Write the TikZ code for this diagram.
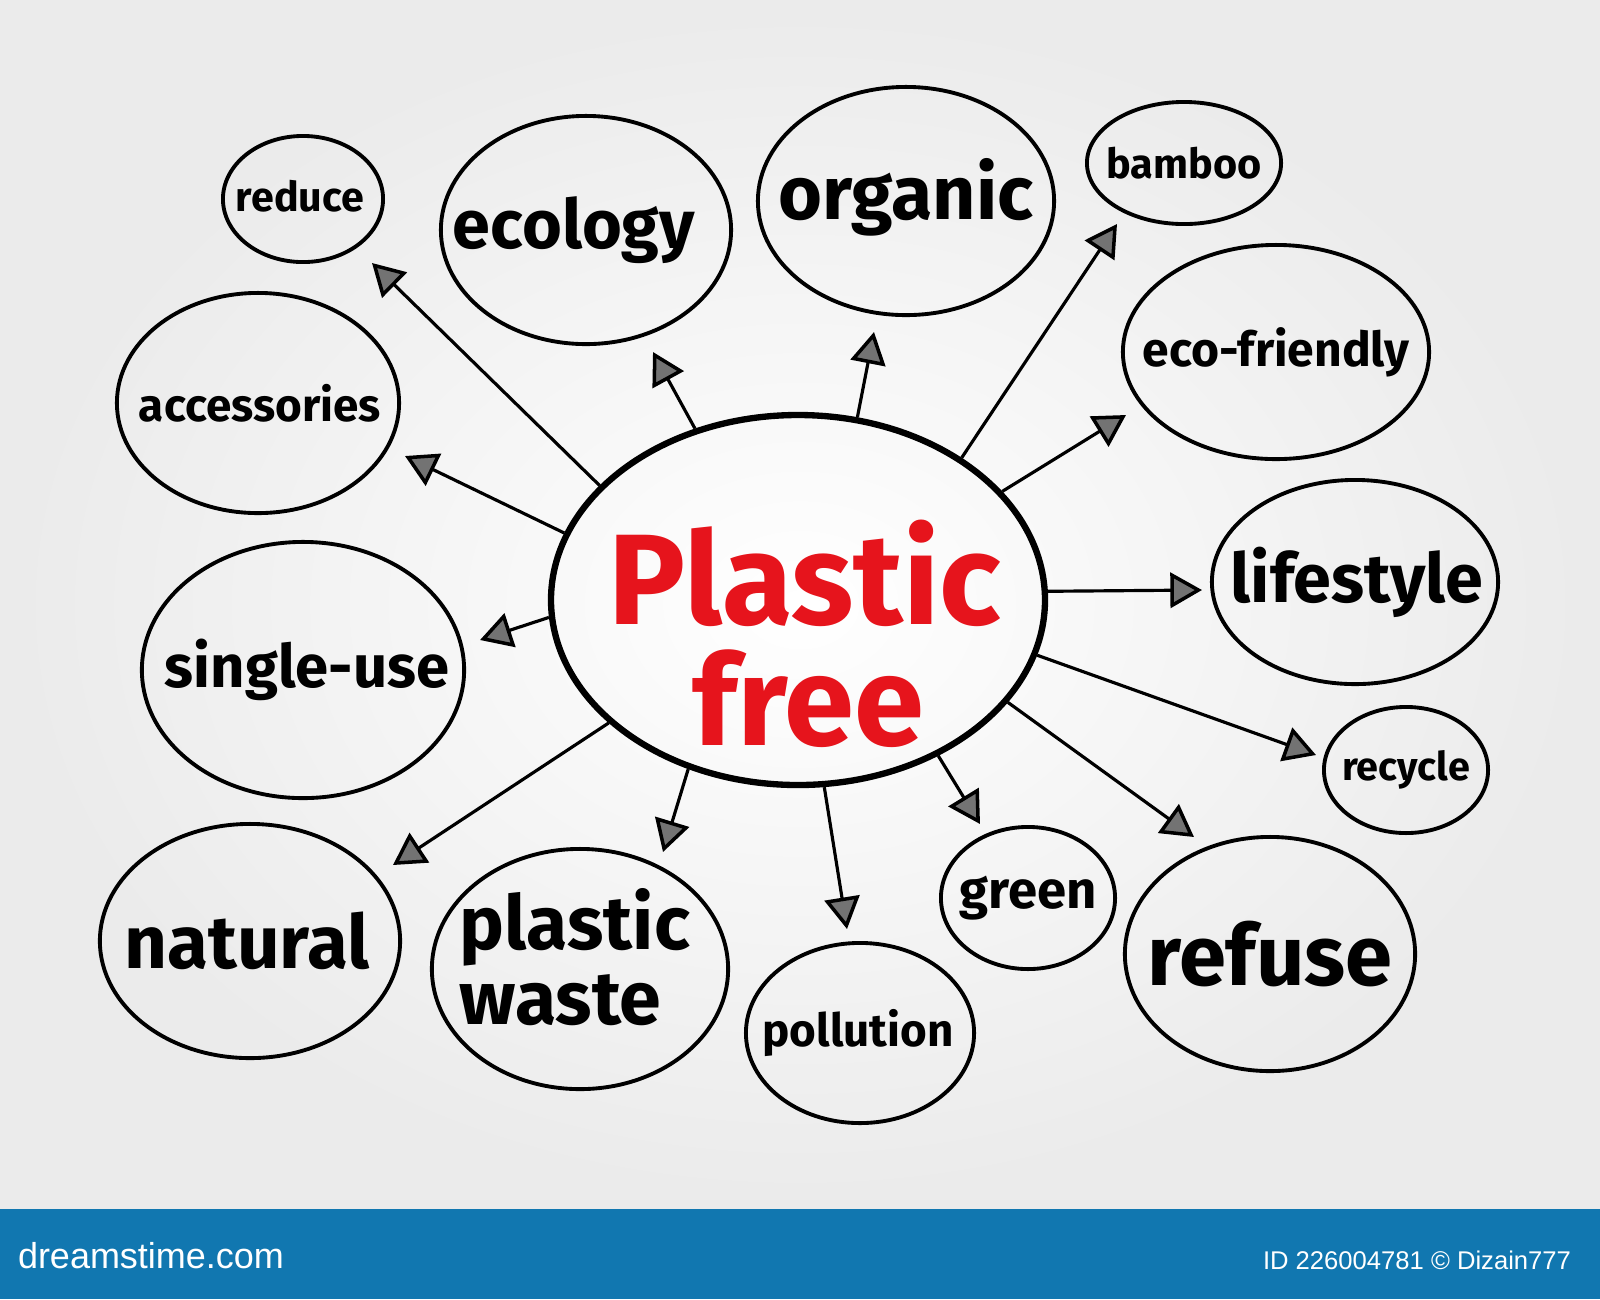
\documentclass[tikz,border=0pt]{standalone}
\usepackage{graphicx}
\usepackage{fontspec}
\setmainfont{Fira Sans}
\usetikzlibrary{shapes.geometric,arrows.meta}
\definecolor{barblue}{RGB}{17,119,176}
\definecolor{pfred}{RGB}{230,20,28}
\newlength{\pxu}\setlength{\pxu}{0.01cm}
\newcommand{\wlbl}[2]{\resizebox{#1\pxu}{!}{\bfseries #2}}
\tikzset{
  bub/.style 2 args={ellipse, draw=black, line width=1.1pt, inner sep=0pt,
    minimum width=#1*0.02cm, minimum height=#2*0.02cm},
  txt/.style={inner sep=0pt},
  arr/.style={line width=0.9pt, -{Triangle[length=9pt,width=10pt,fill=black!55,line width=1pt]}},
}
\begin{document}
\begin{tikzpicture}[x=0.01cm,y=-0.01cm]
\useasboundingbox (0,0) rectangle (1600,1299);
\shade[inner color=white, outer color=black!8] (0,0) rectangle (1600,1209);
\fill[barblue] (0,1209) rectangle (1600,1299);
\node[text=white, inner sep=0] (dt) at (151,1256) {\resizebox{266\pxu}{!}{\fontspec{Liberation Sans}dreamstime.com}};
\node[text=white, inner sep=0] (id) at (1417,1260) {\resizebox{308\pxu}{!}{\fontspec{Liberation Sans}ID 226004781 \textcopyright{} Dizain777}};

% central
\node[ellipse, draw=black, line width=1.8pt, inner sep=0pt, minimum width=494*0.01cm, minimum height=370*0.01cm] (c) at (798,600) {};
\node[text=pfred, txt] (pl) at (805,573) {\wlbl{393}{Plastic}};
\node[text=pfred, txt] (fr) at (808,699) {\wlbl{231}{free}};

% bubbles
\node[bub={80}{63}] (reduce) at (303,199) {};
\node[bub={145}{114}] (ecology) at (586,230) {};
\node[bub={148}{114}] (organic) at (906,201) {};
\node[bub={97}{61}] (bamboo) at (1184,163) {};
\node[bub={153}{107}] (eco) at (1276,352) {};
\node[bub={141}{110}] (acc) at (258,403) {};
\node[bub={161}{128}] (single) at (303,670) {};
\node[bub={143}{102}] (life) at (1355,582) {};
\node[bub={82}{63}] (recycle) at (1406,770) {};
\node[bub={150}{117}] (natural) at (250,941) {};
\node[bub={148}{120}] (waste) at (580,969) {};
\node[bub={114}{90}] (poll) at (860,1033) {};
\node[bub={87}{71}] (green) at (1028,898) {};
\node[bub={145}{117}] (refuse) at (1270,954) {};

% labels
\node[txt] (reduceT) at (300,196) {\wlbl{128}{reduce}};
\node[txt] (ecologyT) at (574,230) {\wlbl{242}{ecology}};
\node[txt] (organicT) at (906,197) {\wlbl{255}{organic}};
\node[txt] (bambooT) at (1184,163) {\wlbl{155}{bamboo}};
\node[txt] (ecoT) at (1276,352) {\wlbl{267}{eco-friendly}};
\node[txt] (accT) at (260,403) {\wlbl{242}{accessories}};
\node[txt] (singleT) at (307,670) {\wlbl{284}{single-use}};
\node[txt] (lifeT) at (1357,582) {\wlbl{253}{lifestyle}};
\node[txt] (recycleT) at (1406,770) {\wlbl{128}{recycle}};
\node[txt] (naturalT) at (247,941) {\wlbl{245}{natural}};
\node[txt] (wasteT) at (575,969) {\wlbl{230}{\begin{tabular}{@{}l@{}}plastic\\[-2pt] waste\end{tabular}}};
\node[txt] (pollT) at (858,1033) {\wlbl{191}{pollution}};
\node[txt] (greenT) at (1028,898) {\wlbl{137}{green}};
\node[txt] (refuseT) at (1270,954) {\wlbl{245}{refuse}};

% arrow tips
\coordinate (t1) at (372,263);
\coordinate (t2) at (653,352);
\coordinate (t3) at (874,332);
\coordinate (t4) at (1117,224);
\coordinate (t5) at (1126,415);
\coordinate (t6) at (405,456);
\coordinate (t7) at (480,640);
\coordinate (t8) at (1202,590);
\coordinate (t9) at (1316,755);
\coordinate (t10) at (1194,837);
\coordinate (t11) at (980,824);
\coordinate (t12) at (847,929);
\coordinate (t13) at (663,852);
\coordinate (t14) at (393,865);
\foreach \a/\t in {150/t1,121/t2,72.7/t3,41.4/t4,28.5/t5,164.6/t6,-176/t7,2.3/t8,-13.5/t9,-26.5/t10,-48.5/t11,-82.8/t12,-123.9/t13,-147.1/t14}
  \draw[arr] (c.\a) -- (\t);
\end{tikzpicture}
\end{document}
